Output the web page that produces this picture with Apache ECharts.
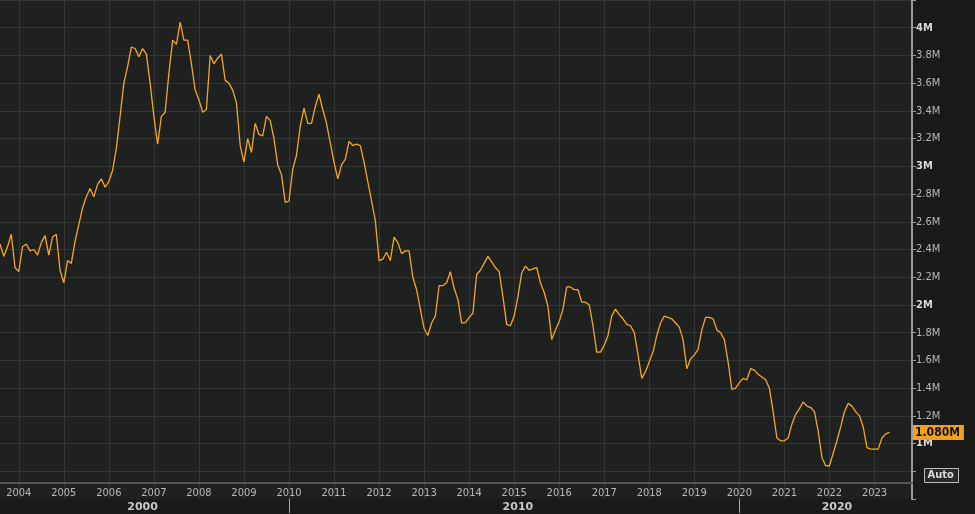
<!DOCTYPE html>
<html>
<head>
<meta charset="utf-8">
<script src="https://cdn.jsdelivr.net/npm/echarts@6/dist/echarts.min.js"></script>
<style>
html,body{margin:0;padding:0;background:#1a1a1a;}
#chart{width:975px;height:514px;}
</style>
</head>
<body>
<div id="chart"></div>
<script>
// monthly values in millions, Aug 2003 .. Jun 2023
var startYear = 2003, startMonth = 8;
var values = [
	2.44,2.35,2.42,2.51,2.27,
	2.24,2.42,2.44,2.39,2.40,2.36,2.45,2.50,2.36,2.49,2.51,2.25,
	2.16,2.32,2.30,2.46,2.58,2.70,2.78,2.84,2.78,2.87,2.91,2.85,
	2.89,2.97,3.13,3.36,3.60,3.72,3.86,3.85,3.79,3.85,3.81,3.60,
	3.36,3.16,3.36,3.39,3.67,3.91,3.88,4.04,3.91,3.91,3.74,3.55,
	3.48,3.39,3.41,3.80,3.74,3.78,3.81,3.62,3.60,3.55,3.46,3.15,
	3.03,3.20,3.10,3.31,3.23,3.22,3.36,3.33,3.20,3.01,2.94,2.74,
	2.75,2.98,3.08,3.29,3.42,3.31,3.31,3.43,3.52,3.41,3.31,3.17,
	3.03,2.91,3.01,3.05,3.18,3.15,3.16,3.15,3.03,2.89,2.75,2.61,
	2.32,2.33,2.38,2.32,2.49,2.45,2.37,2.39,2.39,2.20,2.11,1.97,
	1.83,1.78,1.87,1.92,2.14,2.14,2.16,2.24,2.12,2.04,1.87,
	1.87,1.91,1.94,2.22,2.25,2.30,2.35,2.31,2.27,2.24,2.06,1.86,
	1.85,1.92,2.06,2.23,2.28,2.25,2.26,2.27,2.16,2.09,1.99,1.75,
	1.82,1.88,1.97,2.13,2.13,2.11,2.11,2.02,2.02,2.00,1.85,1.66,
	1.66,1.71,1.78,1.92,1.97,1.93,1.90,1.86,1.85,1.80,1.64,1.47,
	1.52,1.59,1.66,1.78,1.87,1.92,1.91,1.90,1.87,1.84,1.75,1.54,
	1.61,1.64,1.68,1.82,1.91,1.91,1.90,1.82,1.80,1.75,1.59,1.39,
	1.40,1.44,1.47,1.46,1.54,1.53,1.50,1.48,1.46,1.40,1.23,1.04,
	1.02,1.02,1.04,1.14,1.21,1.25,1.30,1.27,1.26,1.23,1.09,0.90,
	0.84,0.84,0.93,1.02,1.12,1.23,1.29,1.27,1.23,1.20,1.12,0.97,
	0.96,0.96,0.96,1.04,1.07,1.08
];
var lastValue = 1.08;
var monthCount = 244; // axis runs to Nov 2023
var decadeLabels = {'2006-10':'2000','2015-02':'2010','2022-03':'2020'};
var decadeTicks = ['2010-01','2020-01'];

var months = [];
for (var i = 0; i < monthCount; i++) {
	var m = startMonth - 1 + i;
	var y = startYear + Math.floor(m / 12);
	var mm = (m % 12) + 1;
	months.push(y + '-' + (mm < 10 ? '0' + mm : mm));
}
var seriesData = months.map(function(d, i){ return i < values.length ? values[i] : null; });
var isJan = function(idx, v){ return v.slice(5) === '01'; };

var splitColors = ['rgba(0,0,0,0)'];
for (var k = 0; k < 18; k++) splitColors.push('#343634');

var chart = echarts.init(document.getElementById('chart'));
var option = {
	backgroundColor: '#1a1a1a',
	animation: false,
	grid: {left: 0, right: 63, top: -8, bottom: 15, backgroundColor: '#1f2120', show: true, borderWidth: 0},
	xAxis: [{
		type: 'category',
		data: months,
		boundaryGap: false,
		offset: -16,
		axisLine: {lineStyle: {color: '#555', width: 2}},
		axisTick: {show: false},
		axisLabel: {
			interval: isJan,
			formatter: function(v){ return v.slice(0, 4); },
			color: '#b8b8b8', fontFamily: 'DejaVu Sans Condensed', fontSize: 11, margin: 5
		},
		splitLine: {show: true, interval: isJan, lineStyle: {color: '#343634', width: 1}}
	}, {
		type: 'category',
		data: months,
		boundaryGap: false,
		position: 'bottom',
		offset: 0,
		axisLine: {show: false},
		axisTick: {
			show: true, length: 14, inside: false,
			interval: function(idx, v){ return decadeTicks.indexOf(v) >= 0; },
			lineStyle: {color: '#aaa'}
		},
		axisLabel: {
			interval: function(idx, v){ return !!decadeLabels[v]; },
			formatter: function(v){ return decadeLabels[v] || ''; },
			color: '#c8c8c8', fontWeight: 'bold', fontFamily: 'DejaVu Sans', fontSize: 11, margin: 3
		}
	}],
	yAxis: {
		type: 'value',
		position: 'right',
		min: 0.6,
		max: 4.2,
		interval: 0.2,
		axisLine: {show: true, lineStyle: {color: '#9a9a9a', width: 2}},
		axisTick: {show: true, length: 4, lineStyle: {color: '#9a9a9a'}},
		axisLabel: {
			color: '#b8b8b8', fontFamily: 'DejaVu Sans Condensed', fontSize: 11, margin: 4,
			formatter: function(v){
				var r = Math.round(v * 10) / 10;
				if (r < 0.95 || r > 4.05) return '';
				if (Math.abs(r - Math.round(r)) < 0.01) return '{b|' + Math.round(r) + 'M}';
				return r.toFixed(1) + 'M';
			},
			rich: {b: {fontWeight: 'bold', color: '#d8d8d8', fontFamily: 'DejaVu Sans Condensed', fontSize: 11}}
		},
		splitLine: {show: true, lineStyle: {color: splitColors, width: 1}}
	},
	series: [{
		type: 'line',
		data: seriesData,
		symbol: 'none',
		connectNulls: false,
		lineStyle: {color: '#f5a623', width: 1.3},
		markLine: {
			silent: true,
			symbol: 'none',
			lineStyle: {color: 'rgba(0,0,0,0)', width: 0, type: 'solid'},
			data: [{yAxis: lastValue}],
			label: {
				show: true,
				position: 'end',
				distance: 1,
				formatter: lastValue.toFixed(3) + 'M',
				backgroundColor: '#f5a01a',
				color: '#111',
				fontWeight: 'bold',
				fontFamily: 'DejaVu Sans Condensed',
				fontSize: 12,
				padding: [2, 4, 1, 2]
			}
		}
	}],
	graphic: [{
		type: 'group',
		right: 16,
		bottom: 31,
		children: [{
			type: 'rect',
			shape: {x: 0, y: 0, width: 34, height: 14},
			style: {fill: '#2a2a2a', stroke: '#bbb', lineWidth: 1}
		}, {
			type: 'text',
			x: 3, y: 1,
			style: {text: 'Auto', fill: '#ddd', font: 'bold 11px DejaVu Sans Condensed'}
		}]
	}]
};
chart.setOption(option);
</script>
</body>
</html>
